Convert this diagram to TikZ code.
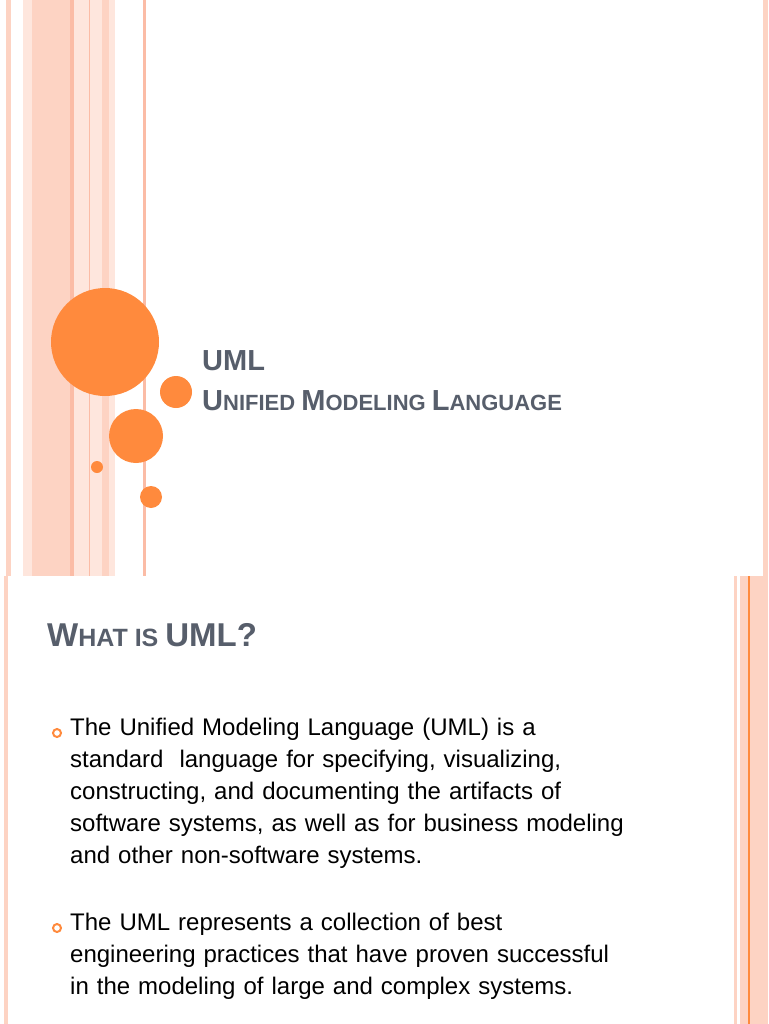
\documentclass[tikz,border=0pt]{standalone}
\usepackage{fontspec}
\setmainfont{Liberation Sans}
\definecolor{orng}{HTML}{FF8A3D}
\definecolor{pch}{HTML}{FDD3C3}
\definecolor{pchl}{HTML}{FEE6DD}
\definecolor{pchd}{HTML}{FBBCA6}
\definecolor{ttl}{HTML}{575E6B}
\begin{document}
\begin{tikzpicture}[x=1pt,y=-1pt,
  stripe/.style={fill=#1,draw=none},
  dot/.style={circle,fill=orng,draw=none,inner sep=0pt,minimum size=#1},
  body/.style={anchor=north west,align=left,font=\fontsize{24}{32}\selectfont,inner sep=0pt,text width=620pt},
  bul/.style={circle,draw=orng,line width=2pt,inner sep=0pt,minimum size=8pt}]
\useasboundingbox (0,0) rectangle (768,1024);
\fill[white] (0,0) rectangle (768,1024);
% top slide stripes
\fill[stripe=pch] (6,0) rectangle (11,576);
\fill[stripe=pchl] (23,0) rectangle (32,576);
\fill[stripe=pch] (32,0) rectangle (70,576);
\fill[stripe=pchd] (70,0) rectangle (74,576);
\fill[stripe=pchl] (74,0) rectangle (89,576);
\fill[stripe=pchd] (89,0) rectangle (90,576);
\fill[stripe=pchl] (90,0) rectangle (102,576);
\fill[stripe=pch] (102,0) rectangle (109,576);
\fill[stripe=pchl] (109,0) rectangle (115,576);
\fill[stripe=pchd] (143,0) rectangle (146,576);
\fill[stripe=pch] (763,0) rectangle (768,576);
% circles
\node[dot=108pt] (c1) at (105,342) {};
\node[dot=32pt] (c2) at (176,392) {};
\node[dot=54pt] (c3) at (136,436) {};
\node[dot=12pt] (c4) at (97,467) {};
\node[dot=22pt] (c5) at (151,497) {};
% title
\node[anchor=base west,inner sep=0pt,text=ttl,font=\bfseries\fontsize{29}{30}\selectfont] (t1) at (202,370) {UML};
\node[anchor=base west,inner sep=0pt,text=ttl,font=\bfseries] (t2) at (202,410)
 {{\fontsize{29}{30}\selectfont U}{\fontsize{22}{24}\selectfont NIFIED }{\fontsize{29}{30}\selectfont M}{\fontsize{22}{24}\selectfont ODELING }{\fontsize{29}{30}\selectfont L}{\fontsize{22}{24}\selectfont ANGUAGE}};
% second slide
\fill[stripe=pch] (4,576) rectangle (8,1024);
\fill[stripe=pch] (734,576) rectangle (737,1024);
\fill[stripe=pch] (740,576) rectangle (748,1024);
\fill[stripe=orng] (748,576) rectangle (750,1024);
\fill[stripe=pch] (750,576) rectangle (768,1024);
\node[anchor=base west,inner sep=0pt,text=ttl,font=\bfseries] (h) at (47,646)
 {{\fontsize{33}{34}\selectfont W}{\fontsize{25}{26}\selectfont HAT IS }{\fontsize{33}{34}\selectfont UML?}};
\node[bul] (b1) at (57,733) {};
\node[body] (p1) at (70,718) {The Unified Modeling Language (UML) is a\\standard\ \ language for specifying, visualizing,\\constructing, and documenting the artifacts of\\software systems, as well as for business modeling\\and other non-software systems.};
\node[bul] (b2) at (57,928) {};
\node[body] (p2) at (70,913) {The UML represents a collection of best\\engineering practices that have proven successful\\in the modeling of large and complex systems.};
\end{tikzpicture}
\end{document}
